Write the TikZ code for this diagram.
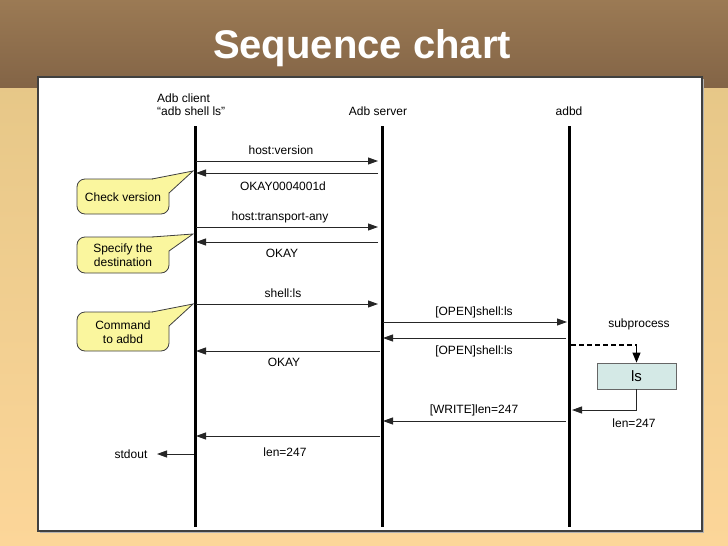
\documentclass[tikz,border=0pt]{standalone}
\usepackage{fontspec}
\setmainfont{Liberation Sans}
\usetikzlibrary{arrows.meta}
\definecolor{hdtop}{HTML}{9B7A54}
\definecolor{hdbot}{HTML}{836446}
\definecolor{bgtop}{HTML}{DCC07F}
\definecolor{bgmid}{HTML}{FCD699}
\definecolor{bglow}{HTML}{FDE0AC}
\definecolor{bgbot}{HTML}{FDF0DA}
\definecolor{boxborder}{HTML}{404040}
\definecolor{calloutfill}{HTML}{FAF69E}
\definecolor{lsfill}{HTML}{D4E9E6}
\definecolor{msgcol}{HTML}{262626}
\pgfdeclareverticalshading{bgshade}{100bp}{color(0bp)=(bgbot); color(6bp)=(bglow); color(25bp)=(bgmid); color(100bp)=(bgtop)}
\tikzset{
  lifeline/.style={line width=3pt, black},
  msg/.style={line width=0.9pt, draw=msgcol, -{Triangle[length=10pt,width=7pt]}},
  lbl/.style={inner sep=0pt, text height=9pt, text depth=0pt, font=\fontsize{12}{14}\selectfont, text=black},
  calloutbox/.style={draw=boxborder, line width=0.8pt, fill=calloutfill, rounded corners=8pt},
  callouttext/.style={font=\fontsize{12}{14}\selectfont, align=center, inner sep=0pt},
  lsbox/.style={draw=boxborder!80, line width=0.8pt, fill=lsfill, minimum width=79pt, minimum height=26pt, inner sep=0pt, font=\fontsize{15}{16}\selectfont},
}
\begin{document}
\begin{tikzpicture}[x=1pt,y=-1pt]
\useasboundingbox (0,0) rectangle (728,546);
% background
\shade[shading=bgshade] (0,86) rectangle (728,546);
\shade[top color=hdtop, bottom color=hdbot] (0,0) rectangle (728,87);
\node[anchor=base, text=white, inner sep=0pt, font=\bfseries\fontsize{40}{44}\selectfont] (title) at (362,58) {Sequence chart};
% frame
\fill[black!30] (40,79) rectangle (704,533);
\draw[fill=white, draw=boxborder, line width=1.2pt] (38,77) rectangle (702,531);

% headers
\node[lbl, anchor=west] (hclient1) at (157,98) {Adb client};
\node[lbl, anchor=west] (hclient2) at (157,111) {“adb shell ls”};
\node[lbl] (hserver) at (378,111) {Adb server};
\node[lbl] (hadbd) at (569,111) {adbd};

% lifelines
\coordinate (cT) at (195,126); \coordinate (cB) at (195,527);
\coordinate (sT) at (382,126); \coordinate (sB) at (382,527);
\coordinate (dT) at (569,126); \coordinate (dB) at (569,527);
\draw[lifeline] (cT) -- (cB);
\draw[lifeline] (sT) -- (sB);
\draw[lifeline] (dT) -- (dB);

% message endpoints
\coordinate (m1a) at (196,161); \coordinate (m1b) at (378,161);
\coordinate (m2a) at (378,173); \coordinate (m2b) at (196,173);
\coordinate (m3a) at (196,227); \coordinate (m3b) at (378,227);
\coordinate (m4a) at (378,242); \coordinate (m4b) at (196,242);
\coordinate (m5a) at (196,304); \coordinate (m5b) at (378,304);
\coordinate (m6a) at (383,322); \coordinate (m6b) at (567,322);
\coordinate (m7a) at (566,338); \coordinate (m7b) at (383,338);
\coordinate (m8a) at (380,351); \coordinate (m8b) at (196,351);
\coordinate (m11a) at (566,421); \coordinate (m11b) at (383,421);
\coordinate (m12a) at (380,436); \coordinate (m12b) at (196,436);
\coordinate (m13a) at (194,454); \coordinate (m13b) at (157,454);

\draw[msg] (m1a) -- (m1b);
\draw[msg] (m2a) -- (m2b);
\draw[msg] (m3a) -- (m3b);
\draw[msg] (m4a) -- (m4b);
\draw[msg] (m5a) -- (m5b);
\draw[msg] (m6a) -- (m6b);
\draw[msg] (m7a) -- (m7b);
\draw[msg] (m8a) -- (m8b);
\draw[msg] (m11a) -- (m11b);
\draw[msg] (m12a) -- (m12b);
\draw[msg] (m13a) -- (m13b);

% labels
\node[lbl] (l1) at (281,150) {host:version};
\node[lbl] (l2) at (283,186) {OKAY0004001d};
\node[lbl] (l3) at (280,216) {host:transport-any};
\node[lbl] (l4) at (282,253) {OKAY};
\node[lbl] (l5) at (283,293) {shell:ls};
\node[lbl] (l6) at (474,311) {[OPEN]shell:ls};
\node[lbl] (l7) at (474,350) {[OPEN]shell:ls};
\node[lbl] (l8) at (284,362) {OKAY};
\node[lbl] (l11) at (474,409) {[WRITE]len=247};
\node[lbl] (l12) at (285,452) {len=247};
\node[lbl] (l13) at (131,454) {stdout};
\node[lbl] (lsub) at (639,323) {subprocess};
\node[lbl] (llen) at (634,423) {len=247};

% subprocess
\node[lsbox] (ls) at (636.5,376) {ls};
\coordinate (dsub) at (571,345);
\coordinate (dsubc) at (ls.north |- dsub);
\draw[line width=2pt, dash pattern=on 5pt off 3pt, black] (dsub) -- (dsubc);
\draw[line width=1pt, black, -{Triangle[length=10pt,width=8pt]}] (dsubc) -- (ls.north);
\coordinate (lsret) at (ls.south |- 0,410);
\coordinate (lsretend) at (572,410);
\draw[msg] (ls.south) -- (lsret) -- (lsretend);

% callouts
% 1
\coordinate (t1) at (193,171);
\draw[calloutbox] (77,179) rectangle (169,214);
\fill[calloutfill] (152,179) -- (t1) -- (169,193) -- (160,186) -- cycle;
\draw[boxborder, line width=0.8pt, line join=miter] (152,179) -- (t1) -- (169,193);
\node[callouttext] (c1) at (123,197) {Check version};
% 2
\coordinate (t2) at (193,234);
\draw[calloutbox] (77,237) rectangle (169,273);
\fill[calloutfill] (152,237) -- (t2) -- (169,251) -- (160,244) -- cycle;
\draw[boxborder, line width=0.8pt, line join=miter] (152,237) -- (t2) -- (169,251);
\node[callouttext] (c2) at (123,255) {Specify the\\destination};
% 3
\coordinate (t3) at (193,304);
\draw[calloutbox] (77,312) rectangle (169,351);
\fill[calloutfill] (152,312) -- (t3) -- (169,326) -- (160,319) -- cycle;
\draw[boxborder, line width=0.8pt, line join=miter] (152,312) -- (t3) -- (169,326);
\node[callouttext] (c3) at (123,332) {Command\\to adbd};
\end{tikzpicture}
\end{document}
